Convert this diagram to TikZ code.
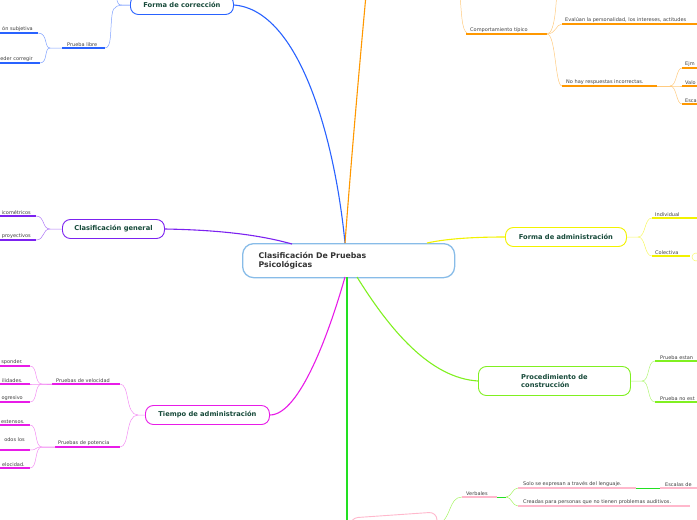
\documentclass[tikz,border=0pt]{standalone}
\usepackage{fontspec}
\setmainfont{DejaVu Sans}
\definecolor{cblue}{HTML}{2962FF}
\definecolor{corange}{HTML}{FF9800}
\definecolor{cpurple}{HTML}{7C22F0}
\definecolor{cmag}{HTML}{E81CE8}
\definecolor{cyel}{HTML}{F2F200}
\definecolor{cgreen}{HTML}{80F020}
\definecolor{cgreen2}{HTML}{22E022}
\definecolor{cpink}{HTML}{FFB8CC}
\definecolor{center}{HTML}{88BCE8}
\definecolor{ttext}{HTML}{174A3A}
\tikzset{
 main/.style={draw=#1,line width=0.9pt,rounded corners=8pt,fill=white,minimum height=19pt,font=\bfseries\fontsize{6.7}{8.5}\selectfont,text=ttext,inner xsep=10pt,anchor=west},
 leaf/.style={font=\fontsize{5}{6}\selectfont,text=black!75,anchor=south west,inner sep=1pt},
 ul/.style={draw=#1,line width=1.3pt},
 br/.style={draw=#1,line width=0.5pt},
 cn/.style={draw=#1,line width=1.1pt},
}
\begin{document}
\begin{tikzpicture}[x=1pt,y=-1pt]
\useasboundingbox (0,0) rectangle (697,520);
% center
\node[draw=center,line width=1.3pt,rounded corners=11pt,fill=white,minimum width=212pt,minimum height=34pt,anchor=north west,font=\bfseries\fontsize{7.8}{9.5}\selectfont,text=black!80,align=left,text width=180pt] (c) at (242,243) {Clasificación De Pruebas\\Psicológicas};
% Forma de correccion
\node[main=cblue,minimum width=103pt] (fc) at (130,5) {Forma de corrección};
\draw[cn=cblue] (fc.east) .. controls (300,10) and (335,140) .. (345,243);
\draw[br=cblue!60] (fc.west) -- (122,5) .. controls (115,5) and (118,-2) .. (116,-8);
\node[leaf] (pl) at (66,48) {Prueba libre};
\draw[ul=cblue] (62,48) -- (105,48);
\draw[br=cblue!60] (105,48) .. controls (112,48) and (110,30) .. (112,15) .. controls (113,5) and (118,5) .. (fc.west);
\node[leaf,anchor=south east] (l1) at (34,33) {ón subjetiva};
\draw[ul=cblue] (0,33) -- (38,33);
\node[leaf,anchor=south east] (l2) at (34,63) {eder corregir};
\draw[ul=cblue] (0,63) -- (40,63);
\draw[br=cblue!60] (38,33) .. controls (48,33) and (44,48) .. (50,48) -- (62,48);
\draw[br=cblue!60] (40,63) .. controls (48,63) and (44,48) .. (50,48);
% Orange
\draw[cn=corange] (345,243) .. controls (352,150) and (360,60) .. (366,-5);
\draw[br=corange!50] (460,-5) .. controls (462,20) and (462,34) .. (470,34);
\node[leaf] (ct) at (469,34) {Comportamiento típico};
\draw[ul=corange] (466,34) -- (547,34);
\draw[br=corange!50] (547,34) .. controls (556,34) and (556,24) .. (562,24);
\draw[br=corange!50] (547,34) .. controls (556,34) and (556,-5) .. (557,-5);
\draw[br=corange!50] (547,34) .. controls (556,34) and (555,86) .. (562,86);
\node[leaf] (ev) at (564,24) {Evalúan la personalidad, los intereses, actitudes};
\draw[ul=corange] (562,24) -- (697,24);
\node[leaf] (nh) at (565,86) {No hay respuestas incorrectas.};
\draw[ul=corange] (562,86) -- (657,86);
\draw[br=corange!50] (657,86) -- (670,86);
\foreach \y/\t in {68/Ejm,86/Valo,104/Esca}{
 \draw[br=corange!50] (670,86) .. controls (677,86) and (676,\y) .. (682,\y);
 \draw[ul=corange] (682,\y) -- (697,\y);
 \node[leaf] at (684,\y) {\t};}
% Clasificacion general
\node[main=cpurple,minimum width=102pt] (cg) at (62,229) {Clasificación general};
\draw[cn=cpurple] (cg.east) .. controls (220,230) and (260,235) .. (292,244);
\node[leaf,anchor=south east] at (32,216) {icométricos};
\draw[ul=cpurple] (0,216) -- (36,216);
\node[leaf,anchor=south east] at (32,240) {proyectivos};
\draw[ul=cpurple] (0,240) -- (36,240);
\draw[br=cpurple!60] (36,216) .. controls (45,216) and (42,229) .. (50,229) -- (cg.west);
\draw[br=cpurple!60] (36,240) .. controls (45,240) and (42,229) .. (50,229);
% Tiempo de administracion
\node[main=cmag,minimum width=124pt] (ta) at (145,415) {Tiempo de administración};
\draw[cn=cmag] (ta.east) .. controls (300,415) and (330,330) .. (345,277);
\node[leaf] at (55,384) {Pruebas de velocidad};
\draw[ul=cmag] (52,384) -- (120,384);
\node[leaf] at (57,447) {Pruebas de potencia};
\draw[ul=cmag] (55,447) -- (120,447);
\draw[br=cmag!50] (120,384) .. controls (130,384) and (125,415) .. (138,415) -- (ta.west);
\draw[br=cmag!50] (120,447) .. controls (130,447) and (125,415) .. (138,415);
\foreach \y/\t in {366/sponder.,384/ilidades.,402/ogresivo}{
 \node[leaf,anchor=south east] at (24,\y) {\t};
 \draw[ul=cmag] (0,\y) -- (30,\y);
 \draw[br=cmag!50] (30,\y) .. controls (38,\y) and (34,384) .. (42,384) -- (52,384);}
\foreach \y/\yy/\t in {425/425/estensos.,450/443/odos los,468/468/elocidad.}{
 \node[leaf,anchor=south east] at (26,\yy) {\t};
 \draw[ul=cmag] (0,\y) -- (30,\y);
 \draw[br=cmag!50] (30,\y) .. controls (38,\y) and (34,447) .. (42,447) -- (55,447);}
% Forma de administracion
\node[main=cyel,minimum width=121pt] (fa) at (505,237) {Forma de administración};
\draw[cn=cyel] (427,243) .. controls (450,238) and (480,237) .. (fa.west);
\node[leaf] at (654,218) {Individual};
\draw[ul=cyel] (652,218) -- (697,218);
\node[leaf] at (654,256) {Colectiva};
\draw[ul=cyel] (652,256) -- (690,256);
\draw[br=cyel!60] (fa.east) -- (638,237) .. controls (646,237) and (644,218) .. (652,218);
\draw[br=cyel!60] (638,237) .. controls (646,237) and (644,256) .. (652,256);
\draw[br=cyel!60] (696,257) circle (4);
% Procedimiento
\node[main=cgreen,minimum width=152pt,minimum height=29pt,align=left,inner xsep=15pt] (pc) at (478,381) {Procedimiento de\\construcción};
\draw[cn=cgreen] (357,277) .. controls (390,330) and (430,378) .. (pc.west);
\node[leaf] at (659,361) {Prueba estan};
\draw[ul=cgreen] (655,361) -- (697,361);
\node[leaf] at (659,402) {Prueba no est};
\draw[ul=cgreen] (655,402) -- (697,402);
\draw[br=cgreen!60] (pc.east) -- (642,381) .. controls (650,381) and (647,361) .. (655,361);
\draw[br=cgreen!60] (642,381) .. controls (650,381) and (647,402) .. (655,402);
% bottom green
\draw[draw=cgreen2,line width=1.6pt] (347,277) -- (347,525);
\draw[draw=cpink,line width=0.9pt,rounded corners=8pt,fill=white] (350,530) -- (350,518) -- (437,512) -- (437,530);
\node[leaf] at (465,497) {Verbales};
\draw[ul=cpink] (462,497) -- (497,497);
\draw[br=cgreen!70] (437,525) .. controls (452,520) and (448,497) .. (462,497);
\draw[br=cgreen2] (497,497) -- (506,497);
\draw[br=cgreen!70] (506,497) .. controls (512,497) and (512,488) .. (518,488);
\draw[br=cgreen!70] (506,497) .. controls (512,497) and (512,506) .. (518,506);
\node[leaf] at (522,488) {Solo se expresan a través del lenguaje.};
\draw[ul=cpink] (518,488) -- (636,488);
\draw[br=cgreen2] (636,488) -- (660,488);
\node[leaf] at (664,488) {Escalas de};
\draw[ul=cpink] (660,488) -- (697,488);
\node[leaf] at (522,506) {Creadas para personas que no tienen problemas auditivos.};
\draw[ul=cpink] (518,506) -- (690,506);
\end{tikzpicture}
\end{document}
